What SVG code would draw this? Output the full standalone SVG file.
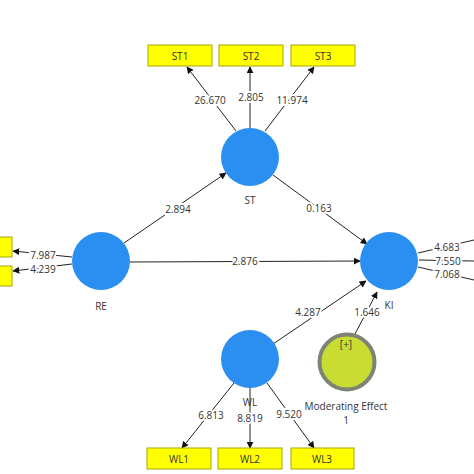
<svg xmlns="http://www.w3.org/2000/svg" width="474" height="474" viewBox="0 0 474 474">
<defs>
<marker id="ah" viewBox="0 0 10 10" refX="9" refY="5" markerWidth="7" markerHeight="7" orient="auto" markerUnits="userSpaceOnUse">
<path d="M0,0 L10,5 L0,10 z" fill="#111"/>
</marker>
<style>
.c{stroke:#222;stroke-width:1;fill:none;marker-end:url(#ah)}
.l{font-family:"Open Sans","Liberation Sans",sans-serif;font-size:10px;fill:#333;text-anchor:middle;dominant-baseline:central;paint-order:stroke;stroke:#fff;stroke-width:4px;stroke-linejoin:round}
.n{font-family:"Open Sans","Liberation Sans",sans-serif;font-size:10px;fill:#333;text-anchor:middle;dominant-baseline:central}
.lv{fill:#2a8ff0}
.ind{fill:#ffff00;stroke:#a6a600;stroke-width:1}
</style>
</defs>
<rect width="474" height="474" fill="#fff"/>
<g id="connectors">
<line class="c" x1="236" y1="131" x2="187" y2="67"/>
<line class="c" x1="250" y1="129" x2="250" y2="67"/>
<line class="c" x1="265" y1="131" x2="314" y2="67"/>
<line class="c" x1="124" y1="243" x2="226" y2="173"/>
<line class="c" x1="273" y1="175" x2="367" y2="244"/>
<line class="c" x1="130" y1="262" x2="360" y2="261"/>
<line class="c" x1="273" y1="344" x2="366" y2="281"/>
<line class="c" x1="355" y1="334" x2="377" y2="292"/>
<line class="c" x1="234" y1="383" x2="182" y2="448"/>
<line class="c" x1="250" y1="388" x2="250" y2="448"/>
<line class="c" x1="267" y1="383" x2="314" y2="448"/>
<line class="c" x1="72" y1="257" x2="13" y2="251"/>
<line class="c" x1="72" y1="264" x2="13" y2="271"/>
<line x1="418" y1="253" x2="474" y2="240" stroke="#222"/>
<line x1="419" y1="260" x2="474" y2="261" stroke="#222"/>
<line x1="418" y1="267" x2="474" y2="280" stroke="#222"/>
<text class="l" x="210" y="100">26.670</text>
<text class="l" x="251" y="97">2.805</text>
<text class="l" x="292" y="100">11.974</text>
<text class="l" x="178" y="209">2.894</text>
<text class="l" x="319" y="208">0.163</text>
<text class="l" x="245" y="261">2.876</text>
<text class="l" x="308" y="312">4.287</text>
<text class="l" x="367" y="312">1.646</text>
<text class="l" x="211" y="415">6.813</text>
<text class="l" x="250" y="418">8.819</text>
<text class="l" x="289" y="414">9.520</text>
<text class="l" x="43" y="255">7.987</text>
<text class="l" x="43" y="269">4.239</text>
<text class="l" x="447" y="247">4.683</text>
<text class="l" x="448" y="261">7.550</text>
<text class="l" x="447" y="274">7.068</text>
</g>
<g id="ST"><circle class="lv" cx="250" cy="157" r="29"/><text class="n" x="250" y="200">ST</text></g>
<g id="RE"><circle class="lv" cx="101" cy="261" r="29"/><text class="n" x="101" y="306">RE</text></g>
<g id="KI"><circle class="lv" cx="389" cy="261" r="29"/><text class="n" x="389" y="305">KI</text></g>
<g id="WL"><circle class="lv" cx="250" cy="359" r="29"/><text class="n" x="250" y="402">WL</text></g>
<g id="ME"><circle cx="347" cy="362" r="27.5" fill="#c8dc32" stroke="#7d8473" stroke-width="4"/><text class="n" x="346" y="344" font-size="9">[+]</text><text class="n" x="346" y="406">Moderating Effect</text><text class="n" x="346" y="420">1</text></g>
<g id="ST1"><rect class="ind" x="148" y="45" width="64" height="21"/><text class="n" x="180" y="56">ST1</text></g>
<g id="ST2"><rect class="ind" x="219" y="45" width="64" height="21"/><text class="n" x="251" y="56">ST2</text></g>
<g id="ST3"><rect class="ind" x="291" y="45" width="64" height="21"/><text class="n" x="323" y="56">ST3</text></g>
<g id="WL1"><rect class="ind" x="147" y="448" width="64" height="21"/><text class="n" x="179" y="459">WL1</text></g>
<g id="WL2"><rect class="ind" x="218" y="448" width="64" height="21"/><text class="n" x="250" y="459">WL2</text></g>
<g id="WL3"><rect class="ind" x="291" y="448" width="63" height="21"/><text class="n" x="322" y="459">WL3</text></g>
<g id="RE1"><rect class="ind" x="-52" y="237" width="64" height="20"/></g>
<g id="RE2"><rect class="ind" x="-52" y="266" width="64" height="20"/></g>
</svg>
